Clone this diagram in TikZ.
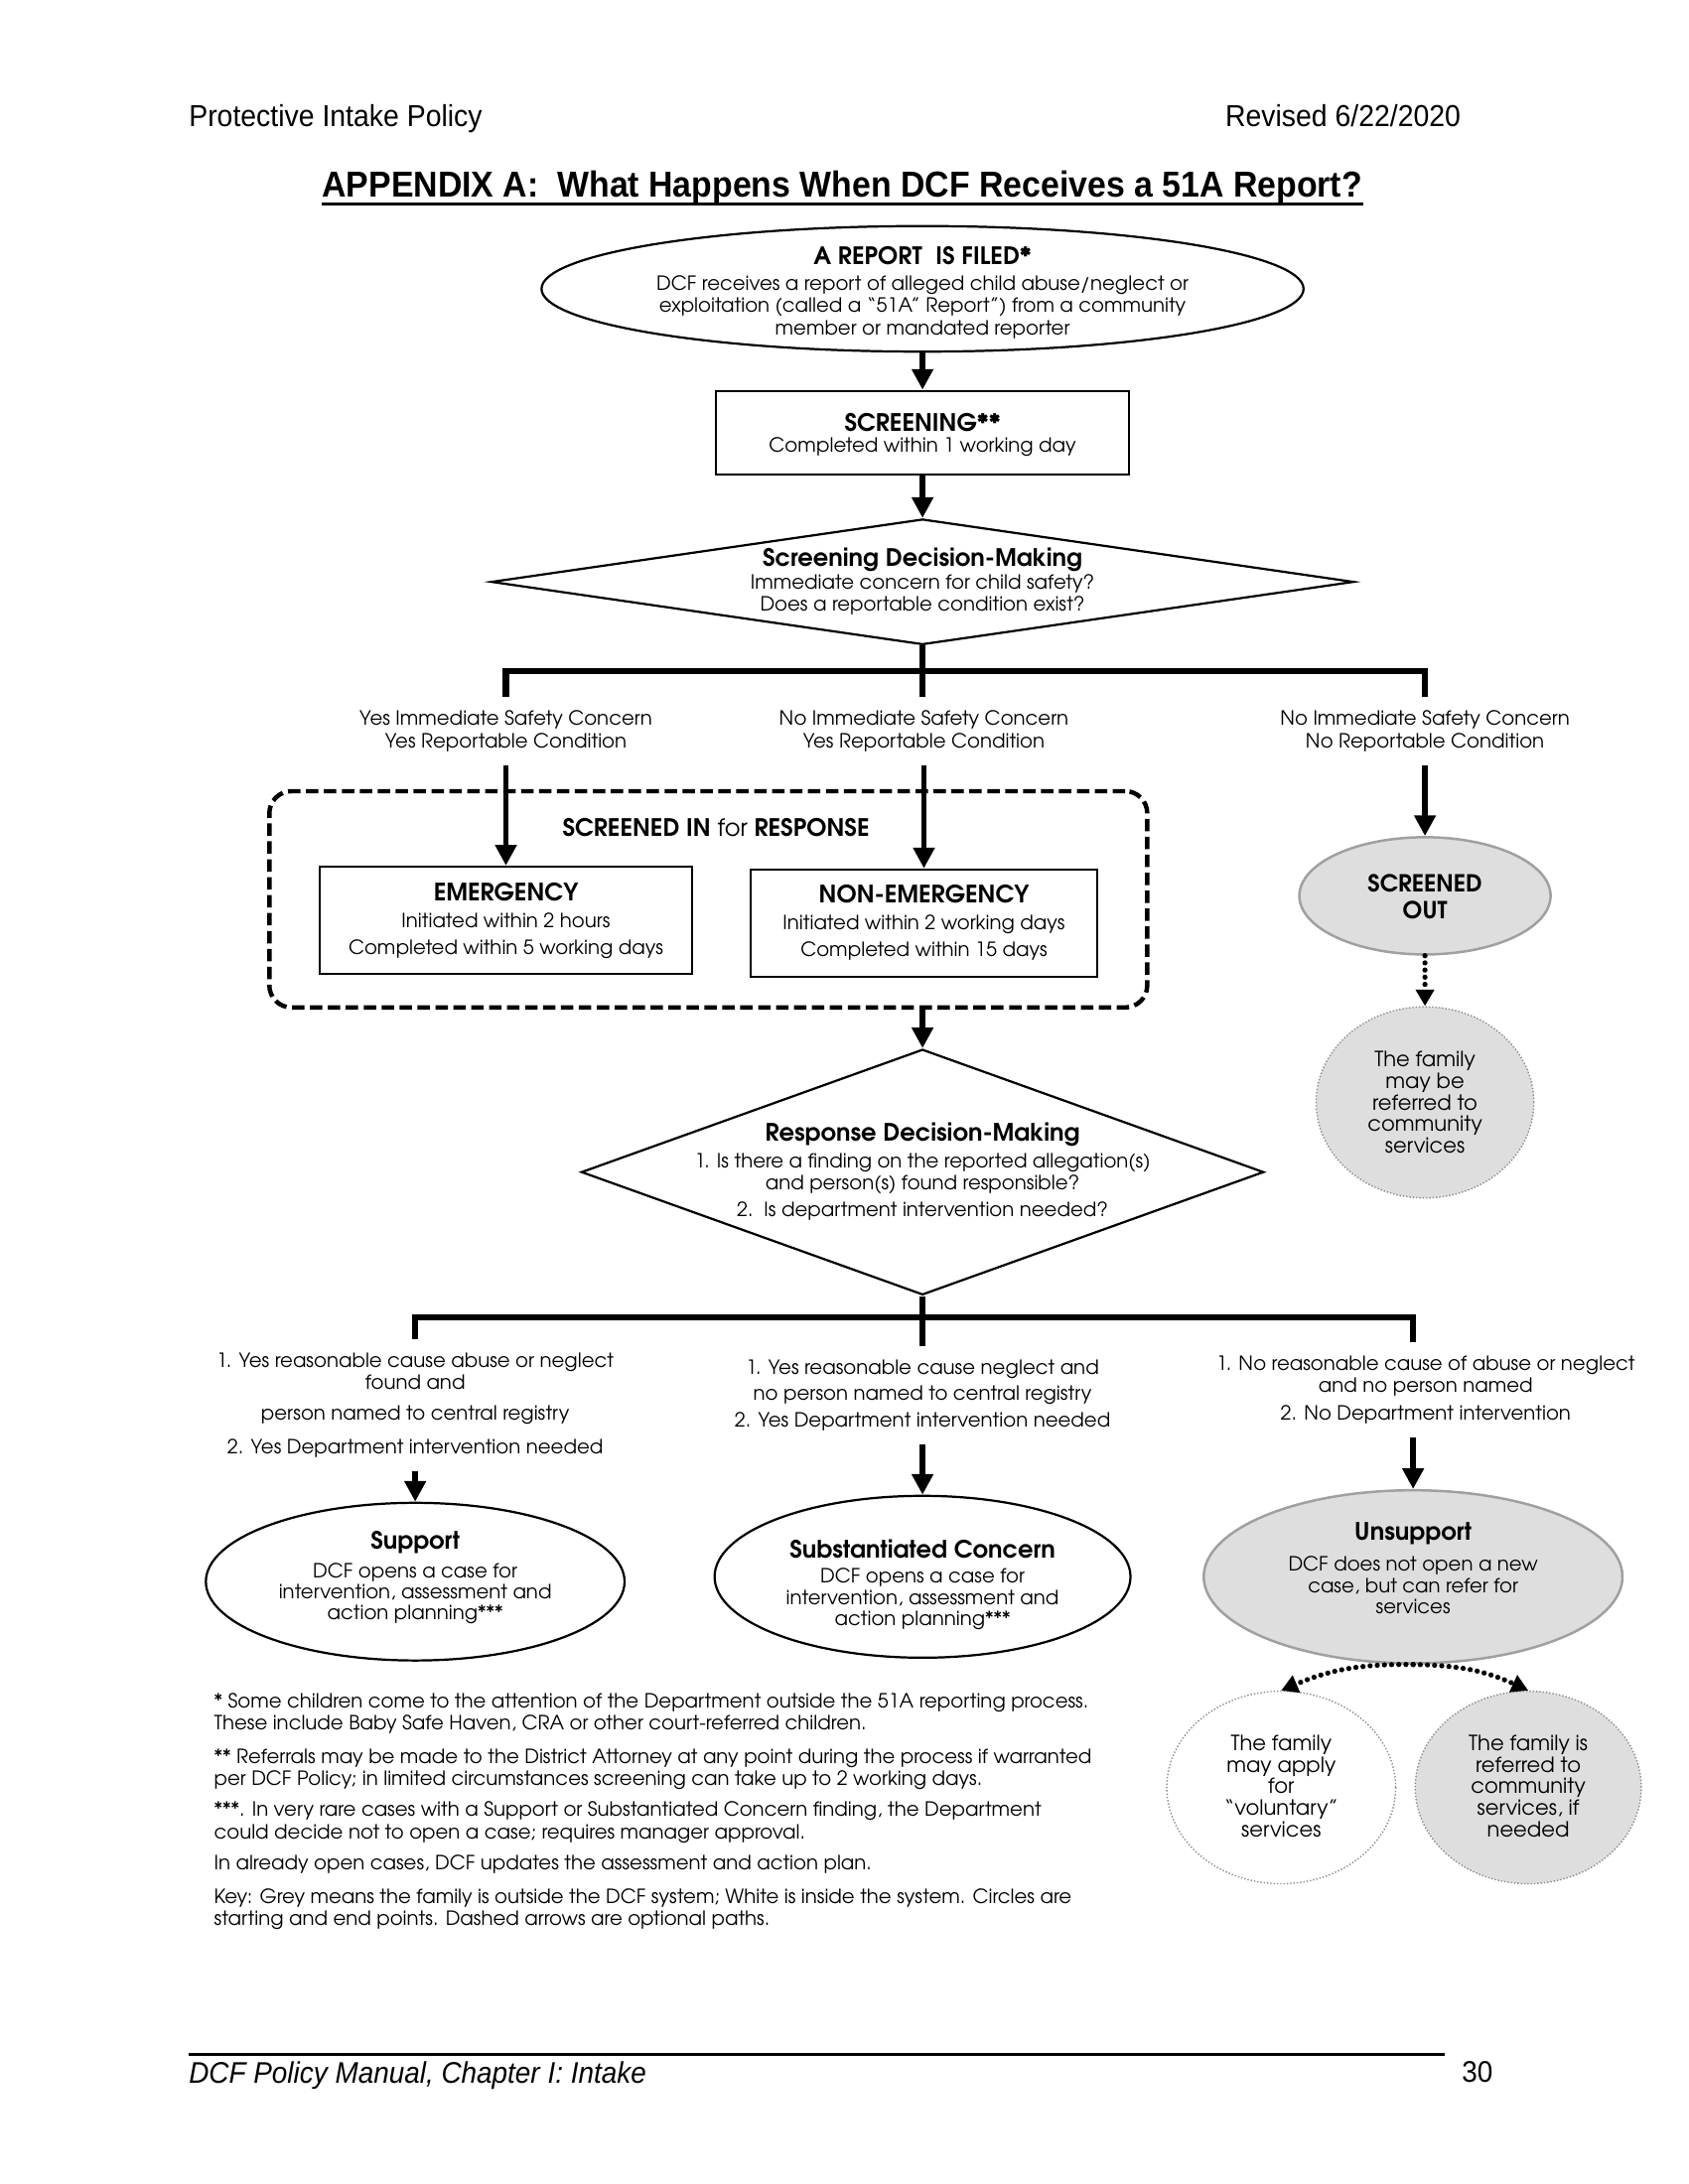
\documentclass[tikz,border=0pt]{standalone}
\usepackage{fontspec}
\setmainfont{Liberation Sans}
\newfontfamily\hdr[FakeStretch=0.93]{Liberation Sans}
\newfontfamily\gf{texgyreadventor}[Extension=.otf,UprightFont=*-regular,BoldFont=*-bold,ItalicFont=*-italic,BoldItalicFont=*-bolditalic]
\usetikzlibrary{shapes.geometric,arrows.meta,calc}
\definecolor{lightg}{HTML}{DEDEDE}
\definecolor{gline}{HTML}{A0A0A0}
\definecolor{dline}{HTML}{8C8C8C}
\def\unitpx{0.506pt}
\tikzset{
  sz/.style 2 args={minimum width=#1*\unitpx,minimum height=#2*\unitpx},
  arr/.style={line width=2pt,-{Triangle[length=7.5pt,width=7.5pt]}},
  bar/.style={line width=2.4pt,line join=miter},
  vl/.style={line width=2pt},
  box/.style={draw,line width=0.7pt,inner sep=0},
  ell/.style={draw,ellipse,line width=0.8pt,inner sep=0},
  gell/.style={draw=gline,fill=lightg,ellipse,line width=0.9pt,inner sep=0},
  dotell/.style={ellipse,draw=dline,line width=0.5pt,dash pattern=on 0.5pt off 0.7pt,inner sep=0},
  dia/.style={draw,diamond,line width=0.8pt,inner sep=0},
  dbox/.style={draw,line width=1.6pt,dash pattern=on 4.5pt off 2pt,rounded corners=8pt,inner sep=0},
  darr/.style={line width=1.9pt,dash pattern=on 0pt off 2.6pt,line cap=round,-{Triangle[length=6pt,width=6.5pt]}},
  bt/.style={font=\gf\bfseries\fontsize{8.7}{10}\selectfont,inner sep=0,align=center},
  nt/.style={font=\gf\fontsize{7.1}{8.1}\selectfont,inner sep=0,align=center},
  et/.style={font=\gf\fontsize{7.1}{7.6}\selectfont,inner sep=0,align=center},
  ct/.style={font=\gf\fontsize{7.6}{7.85}\selectfont,inner sep=0,align=center},
  lab/.style={nt,outer sep=5pt},
  fn/.style={font=\gf\fontsize{7.1}{8.1}\selectfont,inner sep=0,anchor=west},
  hd/.style={font=\hdr\fontsize{11}{13}\selectfont,inner sep=0},
}
\begin{document}
\begin{tikzpicture}[x=0.506pt,y=-0.506pt]
\fill[white] (0,0) rectangle (1209.5,1565.2);
\useasboundingbox (0,0) rectangle (1209.5,1565.2);

% header
\node[hd,anchor=base west] (hl) at (135,91) {Protective Intake Policy};
\node[hd,anchor=base east] (hr) at (1047,91) {Revised 6/22/2020};
\node[font=\hdr\bfseries\fontsize{13.1}{15}\selectfont,inner sep=0,anchor=base] (title) at (603.5,141) {APPENDIX A:\ \ What Happens When DCF Receives a 51A Report?};
\draw[line width=1.1pt] ([yshift=-2.6pt]title.base west) -- ([yshift=-2.6pt]title.base east);

% report filed
\node[ell,sz={546}{90}] (rep) at (661,207) {};
\node[bt] (repT) at (661,183) {A REPORT\ \ IS FILED*};
\node[nt] (repB) at (661,220) {DCF receives a report of alleged child abuse/neglect or\\exploitation (called a “51A” Report”) from a community\\member or mandated reporter};

% screening
\node[box,sz={296}{60}] (scr) at (661,310) {};
\node[bt] (scrT) at (661,303) {SCREENING**};
\node[nt] (scrB) at (661,320) {Completed within 1 working day};
\draw[arr] (rep.south) -- (scr.north);

% screening decision
\node[dia,sz={618}{90}] (d1) at (661,417) {};
\node[bt] (d1T) at (661,401) {Screening Decision-Making};
\node[nt] (d1B) at (661,426) {Immediate concern for child safety?\\Does a reportable condition exist?};
\draw[arr] (scr.south) -- (d1.north);

% branch 1
\coordinate (j1) at (661,481);
\coordinate (j1l) at (362.5,481);
\coordinate (j1r) at (1021,481);
\node[lab] (lab1) at (362.5,524) {Yes Immediate Safety Concern\\Yes Reportable Condition};
\node[lab] (lab2) at (662,524) {No Immediate Safety Concern\\Yes Reportable Condition};
\node[lab] (lab3) at (1021,524) {No Immediate Safety Concern\\No Reportable Condition};
\draw[vl] (d1.south) -- (j1);
\draw[bar] (j1l |- lab1.north) -- (j1l) -- (j1r) -- (j1r |- lab3.north);
\draw[vl] (j1) -- (j1 |- lab2.north);

% screened in
\node[dbox,sz={629}{155}] (sin) at (507.5,644.5) {};
\node[bt] (sinT) at (513,593) {SCREENED IN {\mdseries for} RESPONSE};
\node[box,sz={267}{77}] (emg) at (362.5,659.5) {};
\node[bt] (emgT) at (362.5,639) {EMERGENCY};
\node[nt] (emgB) at (362.5,670.5) {Initiated within 2 hours\\[1.5pt]Completed within 5 working days};
\node[box,sz={248}{77}] (nem) at (662,661.5) {};
\node[bt] (nemT) at (662,641) {NON-EMERGENCY};
\node[nt] (nemB) at (662,672) {Initiated within 2 working days\\[1.5pt]Completed within 15 days};
\draw[arr] (lab1.south) -- (emg.north);
\draw[arr] (lab2.south) -- (nem.north);

% screened out
\node[gell,sz={180}{84}] (so) at (1021,642) {};
\node[font=\gf\bfseries\fontsize{8.5}{9.6}\selectfont,inner sep=0,align=center] (soT) at (1021,642.5) {SCREENED\\OUT};
\draw[arr] (lab3.south) -- (so.north);
\node[dotell,fill=lightg,sz={156}{137}] (fam) at (1021,790) {};
\node[ct] (famT) at (1021,790) {The family\\may be\\referred to\\community\\services};
\draw[darr] (so.south) -- (fam.north);

% response decision
\node[dia,sz={489}{176}] (d2) at (661,840) {};
\node[bt] (d2T) at (661,813) {Response Decision-Making};
\node[nt] (d2B) at (661,850.5) {1. Is there a finding on the reported allegation(s)\\and person(s) found responsible?\\[1.5pt]2.\ \ Is department intervention needed?};
\draw[arr] (sin.south -| d2.north) -- (d2.north);

% branch 2
\coordinate (j2) at (661,944);
\coordinate (j2l) at (297.5,944);
\coordinate (j2r) at (1012.5,944);
\node[lab] (labL) at (297.5,1007) {1. Yes reasonable cause abuse or neglect\\found and\\[3pt]person named to central registry\\[4pt]2. Yes Department intervention needed};
\node[lab] (labM) at (661,1000) {1. Yes reasonable cause neglect and\\[1.5pt]no person named to central registry\\[1.5pt]2. Yes Department intervention needed};
\node[lab] (labR) at (1021.5,996) {1. No reasonable cause of abuse or neglect\\and no person named\\[2pt]2. No Department intervention};
\draw[vl] (d2.south) -- (j2);
\draw[bar] (j2l |- labL.north) -- (j2l) -- (j2r) -- (j2r |- labR.north);
\draw[vl] (j2) -- (j2 |- labM.north);

% outcomes
\node[ell,sz={300}{113}] (sup) at (297.5,1133.5) {};
\node[bt] (supT) at (297.5,1105) {Support};
\node[et] (supB) at (297.5,1142) {DCF opens a case for\\intervention, assessment and\\action planning***};
\node[ell,sz={298}{116}] (sub) at (661,1130) {};
\node[bt] (subT) at (661,1110) {Substantiated Concern};
\node[et] (subB) at (661,1146) {DCF opens a case for\\intervention, assessment and\\action planning***};
\node[gell,sz={300}{124}] (uns) at (1012.5,1130) {};
\node[bt] (unsT) at (1012.5,1099) {Unsupport};
\node[et] (unsB) at (1012.5,1136) {DCF does not open a new\\case, but can refer for\\services};
\draw[arr] (labL.south) -- (sup.north);
\draw[arr] (labM.south) -- (sub.north);
\draw[arr] (labR.south -| uns.north) -- (uns.north);

% optional paths
\node[dotell,fill=white,sz={164}{138}] (vol) at (918,1281) {};
\node[ct] (volT) at (918,1280) {The family\\may apply\\for\\“voluntary”\\services};
\node[dotell,fill=lightg,sz={162}{138}] (refc) at (1095,1281) {};
\node[ct] (refcT) at (1095,1280) {The family is\\referred to\\community\\services, if\\needed};
\draw[darr] (uns.south) to[bend right=12] (vol.north);
\draw[darr] (uns.south) to[bend left=12] (refc.north);

% footnotes
\node[fn] (fn1) at (153,1220) {* Some children come to the attention of the Department outside the 51A reporting process.};
\node[fn] (fn2) at (153,1236) {These include Baby Safe Haven, CRA or other court-referred children.};
\node[fn] (fn3) at (153,1260) {** Referrals may be made to the District Attorney at any point during the process if warranted};
\node[fn] (fn4) at (153,1276) {per DCF Policy; in limited circumstances screening can take up to 2 working days.};
\node[fn] (fn5) at (153,1298) {***. In very rare cases with a Support or Substantiated Concern finding, the Department};
\node[fn] (fn6) at (153,1314) {could decide not to open a case; requires manager approval.};
\node[fn] (fn7) at (153,1336) {In already open cases, DCF updates the assessment and action plan.};
\node[fn] (fn8) at (153,1360) {Key: Grey means the family is outside the DCF system; White is inside the system. Circles are};
\node[fn] (fn9) at (153,1376) {starting and end points. Dashed arrows are optional paths.};

% footer
\coordinate (fl) at (135,1472);
\coordinate (fr) at (1035,1472);
\draw[line width=1.1pt] (fl) -- (fr);
\node[font=\hdr\itshape\fontsize{10.8}{13}\selectfont,inner sep=0,anchor=base west] (ft) at (135,1493) {DCF Policy Manual, Chapter I: Intake};
\node[font=\hdr\fontsize{10.8}{13}\selectfont,inner sep=0,anchor=base east] (pg) at (1070,1492) {30};
\end{tikzpicture}
\end{document}
